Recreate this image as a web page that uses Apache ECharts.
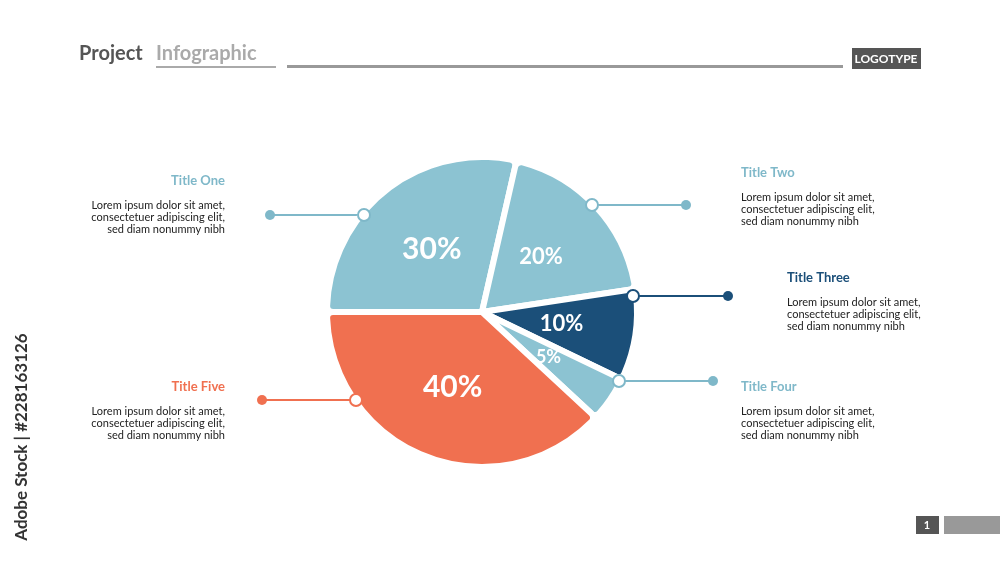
<!DOCTYPE html>
<html>
<head>
<meta charset="utf-8">
<script src="https://cdn.jsdelivr.net/npm/echarts@6/dist/echarts.min.js"></script>
<style>html,body{margin:0;padding:0;background:#fff}#chart{width:1000px;height:562px}</style>
</head>
<body>
<div id="chart"></div>
<script>
// data
var names = ['Title One', 'Title Two', 'Title Three', 'Title Four', 'Title Five'];
var values = [30, 20, 10, 5, 40];
var colors = ['#8cc3d2', '#8cc3d2', '#1b4f79', '#8cc3d2', '#f07050'];
var labelSizes = [30, 22, 22, 18, 30];
var body = ['Lorem ipsum dolor sit amet,', 'consectetuer adipiscing elit,', 'sed diam nonummy nibh'];

var chart = echarts.init(document.getElementById('chart'));
var font = 'Lato, "Open Sans", sans-serif';

// callout layout: [title x, title y, align, line x1, line x2, line y, color]
var callouts = [
    [225, 181, 'right', 270, 364, 215, '#7fb8c9'],
    [741, 173, 'left', 686, 592, 205, '#7fb8c9'],
    [787, 278, 'left', 728, 633, 296, '#1b4f79'],
    [741, 387, 'left', 713, 619, 381, '#7fb8c9'],
    [225, 387, 'right', 262, 356, 400, '#f07050']
];

var graphics = [
    { type: 'text', left: 79, top: 44, style: { text: 'Project', font: 'bold 20px ' + font, fill: '#555' } },
    { type: 'text', left: 156, top: 44, style: { text: 'Infographic', font: 'bold 20px ' + font, fill: '#aaa' } },
    { type: 'rect', shape: { x: 156, y: 66, width: 120, height: 2 }, style: { fill: '#aaa' } },
    { type: 'rect', shape: { x: 287, y: 65, width: 556, height: 3 }, style: { fill: '#999' } },
    { type: 'rect', shape: { x: 852, y: 48, width: 69, height: 21 }, style: { fill: '#555' } },
    { type: 'text', x: 886, y: 59, style: { text: 'LOGOTYPE', font: 'bold 12px ' + font, fill: '#fff', align: 'center', verticalAlign: 'middle' } },
    { type: 'rect', shape: { x: 916, y: 516, width: 23, height: 18 }, style: { fill: '#555' } },
    { type: 'text', x: 927, y: 525, style: { text: '1', font: 'bold 11px ' + font, fill: '#fff', align: 'center', verticalAlign: 'middle' } },
    { type: 'rect', shape: { x: 944, y: 516, width: 56, height: 18 }, style: { fill: '#999' } },
    { type: 'text', x: 22, y: 437, rotation: Math.PI / 2, style: { text: 'Adobe Stock | #228163126', font: 'bold 17px ' + font, fill: '#333', align: 'center', verticalAlign: 'middle' } }
];

callouts.forEach(function (c, i) {
    graphics.push({ type: 'text', x: c[0], y: c[1], style: { text: names[i], font: 'bold 13px ' + font, fill: c[6], align: c[2], verticalAlign: 'middle' } });
    graphics.push({ type: 'text', x: c[0], y: c[1] + 18, style: { text: body.join('\n'), font: '11px ' + font, lineHeight: 12, fill: '#222', align: c[2], verticalAlign: 'top' } });
    graphics.push({ type: 'line', shape: { x1: c[3], y1: c[5], x2: c[4], y2: c[5] }, style: { stroke: c[6], lineWidth: 2 } });
    graphics.push({ type: 'circle', shape: { cx: c[3], cy: c[5], r: 5 }, style: { fill: c[6] } });
    graphics.push({ type: 'circle', z: 10, shape: { cx: c[4], cy: c[5], r: 6 }, style: { fill: '#fff', stroke: c[6], lineWidth: 2 } });
});

option = {
    animation: false,
    graphic: graphics,
    series: [{
        type: 'pie',
        center: [482, 312],
        radius: [0, 155],
        startAngle: 180,
        clockwise: true,
        itemStyle: { borderColor: '#fff', borderWidth: 6, borderRadius: 6 },
        label: {
            position: 'inside',
            color: '#fff',
            fontWeight: 'bold',
            fontFamily: font,
            formatter: function (p) { return values[p.dataIndex] + '%'; }
        },
        labelLine: { show: false },
        data: values.map(function (v, i) {
            return { name: names[i], value: v, itemStyle: { color: colors[i] }, label: { fontSize: labelSizes[i] } };
        })
    }]
};
chart.setOption(option);
</script>
</body>
</html>
